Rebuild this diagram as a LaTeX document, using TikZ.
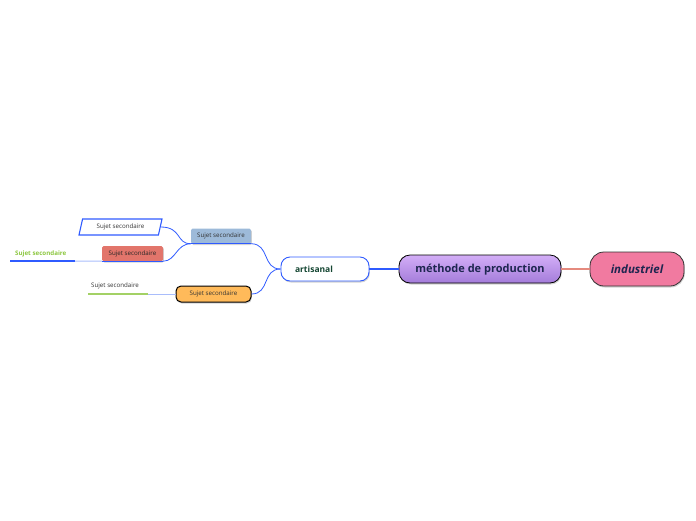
\documentclass[tikz,border=0pt]{standalone}
\usepackage{fontspec}
\setmainfont{Open Sans}
\usetikzlibrary{shapes.geometric,shadows}

\definecolor{linkblue}{HTML}{2F5BFF}
\definecolor{paleblue}{HTML}{A9BDFB}
\definecolor{linkred}{HTML}{E58A7E}
\definecolor{topicgreen}{HTML}{8CC63F}
\definecolor{darknavy}{HTML}{1E2650}
\definecolor{lilactop}{HTML}{D3AEF7}
\definecolor{lilacbottom}{HTML}{A47CDA}

\tikzset{
  softshadow/.style={drop shadow={shadow xshift=0.8pt, shadow yshift=-1.5pt, opacity=.35}},
  mainbox/.style={draw=black, line width=0.8pt, rounded corners=11pt, softshadow,
    minimum width=162pt, minimum height=28pt, inner sep=0pt, text height=8.5pt, text depth=1.5pt,
    top color=lilactop, bottom color=lilacbottom,
    text=darknavy, font=\fontsize{11}{12}\selectfont\bfseries},
  pinkbox/.style={draw=black!80, line width=0.8pt, rounded corners=14pt, softshadow,
    fill={rgb,255:red,241;green,122;blue,160}, minimum width=94pt, minimum height=34pt,
    inner sep=0pt, text=darknavy, font=\fontsize{11.5}{13}\selectfont\bfseries\itshape},
  branchbox/.style={draw=linkblue, line width=0.9pt, rounded corners=9pt, fill=white, softshadow,
    minimum width=88pt, minimum height=24pt, inner xsep=14pt, inner ysep=0pt,
    text width=60pt, align=left, text={rgb,255:red,20;green,70;blue,50},
    font=\fontsize{8.5}{9}\selectfont\bfseries},
  leaf/.style={inner sep=0pt, minimum height=15pt, font=\fontsize{6.2}{7}\selectfont, text=black!80},
  link/.style={draw=linkblue, line width=0.8pt},
}

\begin{document}
\begin{tikzpicture}[x=1pt,y=-1pt]
\useasboundingbox (0,0) rectangle (696,520);

% central topic and the two main branches
\node[mainbox] (methode) at (480,269) {méthode de production};
\node[pinkbox] (industriel) at (637,269) {industriel};
\node[branchbox] (artisanal) at (325,269) {artisanal};

\draw[draw=linkred, line width=1.2pt] (methode.east) -- (industriel.west);
\draw[link, line width=1.2pt] (artisanal.east) -- (methode.west);

% sub topics of artisanal
\node[leaf, fill={rgb,255:red,157;green,186;blue,217}, rounded corners=1.5pt, softshadow,
  minimum width=60pt] (sujetA) at (221,236) {Sujet secondaire};
\node[leaf, draw=black, line width=1pt, rounded corners=5pt, softshadow,
  fill={rgb,255:red,255;green,186;blue,90}, minimum width=75pt, minimum height=16pt]
  (sujetB) at (213.5,294) {Sujet secondaire};

\draw[link, line width=1pt] (sujetA.south west) -- (sujetA.south east);
\draw[link] (artisanal.west) .. controls (262,269) and (270,244) .. (sujetA.south east);
\draw[link] (artisanal.west) .. controls (262,269) and (270,294) .. (sujetB.east);

% children of the first sub topic
\node[leaf, draw=linkblue, line width=1.1pt, trapezium, trapezium left angle=60,
  trapezium right angle=120, trapezium stretches body, minimum width=83pt, minimum height=16pt]
  (sujetC) at (120.5,227) {Sujet secondaire};
\node[leaf, fill={rgb,255:red,226;green,117;blue,107}, rounded corners=1.5pt, softshadow,
  minimum width=61pt, text=black!85] (sujetD) at (132.5,253.5) {Sujet secondaire};

\draw[link, line width=1.1pt] (sujetD.south west) -- (sujetD.south east);
\draw[link] (sujetA.south west) .. controls (176,244) and (182,227) .. (sujetC.east);
\draw[link] (sujetA.south west) .. controls (176,244) and (176,261) .. (sujetD.south east);

% free topic under the red box
\node[leaf, text=topicgreen, font=\fontsize{6.2}{7}\selectfont\bfseries, anchor=west]
  (sujetE) at (15,253.5) {Sujet secondaire};
\coordinate (endE) at (10,261);
\coordinate (midE) at (75,261);
\draw[draw=paleblue, line width=1pt] (sujetD.south west) -- (midE);
\draw[draw=linkblue, line width=1.3pt] (midE) -- (endE);

% free topic beside the orange box
\node[leaf, anchor=west] (sujetF) at (91,286) {Sujet secondaire};
\coordinate (endF) at (88,294);
\coordinate (midF) at (148,294);
\draw[draw=paleblue, line width=1pt] (sujetB.west) -- (midF);
\draw[draw=topicgreen!80, line width=1.3pt] (midF) -- (endF);
\end{tikzpicture}
\end{document}
